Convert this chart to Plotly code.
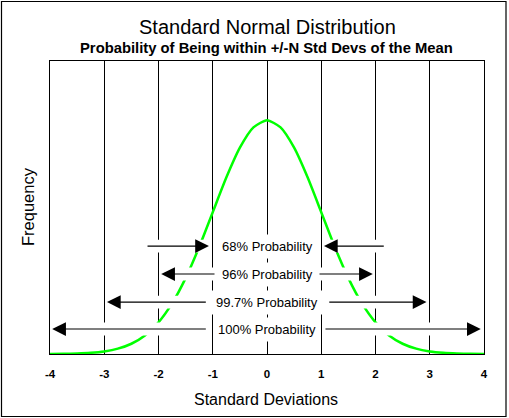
import plotly.graph_objects as go

# Curve (frequency vs standard deviations)
sd_values = [-4.0, -3.75, -3.5, -3.25, -3.0, -2.75, -2.5, -2.25, -2.0, -1.75, -1.5, -1.25,
             -1.0, -0.75, -0.5, -0.25, 0.0, 0.25, 0.5, 0.75, 1.0, 1.25, 1.5, 1.75,
             2.0, 2.25, 2.5, 2.75, 3.0, 3.25, 3.5, 3.75, 4.0]
frequency = [0.0001, 0.0004, 0.0009, 0.002, 0.0044, 0.0091, 0.0175, 0.0317, 0.054, 0.0863,
             0.1295, 0.1826, 0.242, 0.3011, 0.3521, 0.3867, 0.3989, 0.3867, 0.3521, 0.3011,
             0.242, 0.1826, 0.1295, 0.0863, 0.054, 0.0317, 0.0175, 0.0091, 0.0044, 0.002,
             0.0009, 0.0004, 0.0001]

tick_values = [-4, -3, -2, -1, 0, 1, 2, 3, 4]
tick_labels = ["-4", "-3", "-2", "-1", "0", "1", "2", "3", "4"]

prob_labels = ["68% Probability", "96% Probability", "99.7% Probability", "100% Probability"]
# (left head, left tail, right tail, right head, level)
arrow_rows = [
    (-1.07, -2.23, 2.18, 1.05, 0.1841),
    (-1.95, -0.94, 0.94, 1.95, 0.1364),
    (-2.95, -1.10, 1.12, 2.94, 0.0886),
    (-3.96, -1.10, 1.05, 3.94, 0.0426),
]

FONT = "Liberation Sans, Arial, sans-serif"

fig = go.Figure()
fig.add_trace(go.Scatter(x=sd_values, y=frequency, mode="lines",
                         line=dict(color="#00FF00", width=2.5, shape="spline", smoothing=0.6),
                         hoverinfo="skip", showlegend=False))

shapes = []
annotations = []
band = 0.011
for label, (lh, lt, rt, rh, lvl) in zip(prob_labels, arrow_rows):
    # white bands behind the arrows (hide grid + curve)
    for a, b in ((lh, lt), (rt, rh)):
        x0, x1 = min(a, b), max(a, b)
        shapes.append(dict(type="rect", xref="x", yref="y", x0=x0 - 0.02, x1=x1 + 0.02,
                           y0=lvl - band, y1=lvl + band, fillcolor="white",
                           line=dict(width=0), layer="above"))
    for head, tail in ((lh, lt), (rh, rt)):
        annotations.append(dict(x=head, y=lvl, ax=tail, ay=lvl, xref="x", yref="y",
                                axref="x", ayref="y", text="", showarrow=True,
                                arrowhead=2, arrowsize=2.5, arrowwidth=1.1,
                                arrowcolor="black"))
    annotations.append(dict(x=0, y=lvl, xref="x", yref="y", text=label, showarrow=False,
                            font=dict(family=FONT, size=13, color="black"),
                            bgcolor="white", borderpad=4))

# outer border of the image
PLOT_L, PLOT_R, PLOT_T, PLOT_B = 50, 484, 61, 354
pw, ph = PLOT_R - PLOT_L, PLOT_B - PLOT_T
def px_x(p):
    return (p - PLOT_L) / pw
def px_y(p):
    return (PLOT_B - p) / ph

shapes.append(dict(type="rect", xref="paper", yref="paper",
                   x0=px_x(1.5), x1=px_x(506), y0=px_y(416.5), y1=px_y(1.5),
                   line=dict(color="black", width=1.2), fillcolor="rgba(0,0,0,0)",
                   layer="above"))

annotations += [
    dict(text="Standard Normal Distribution", xref="paper", yref="paper",
         x=px_x(267), y=px_y(27), showarrow=False, xanchor="center", yanchor="middle",
         font=dict(family=FONT, size=20, color="black")),
    dict(text="<b>Probability of Being within +/-N Std Devs of the Mean</b>", xref="paper",
         yref="paper", x=px_x(266), y=px_y(48), showarrow=False, xanchor="center",
         yanchor="middle", font=dict(family=FONT, size=14.8, color="black")),
    dict(text="Standard Deviations", xref="paper", yref="paper",
         x=px_x(266), y=px_y(399), showarrow=False, xanchor="center", yanchor="middle",
         font=dict(family=FONT, size=16, color="black")),
    dict(text="Frequency", xref="paper", yref="paper", textangle=-90,
         x=px_x(28), y=px_y(207), showarrow=False, xanchor="center", yanchor="middle",
         font=dict(family=FONT, size=16.5, color="black")),
]

fig.update_layout(
    width=509, height=418,
    margin=dict(l=PLOT_L, r=509 - PLOT_R, t=PLOT_T, b=418 - PLOT_B, pad=0),
    paper_bgcolor="white", plot_bgcolor="white",
    shapes=shapes, annotations=annotations, showlegend=False,
    xaxis=dict(range=[-4, 4], tickvals=tick_values, ticktext=[f"<b>{t}</b>" for t in tick_labels],
               showgrid=True, gridcolor="black", gridwidth=1, zeroline=False,
               showline=True, linecolor="black", linewidth=1, mirror=True,
               ticks="", ticklabelstandoff=9,
               tickfont=dict(family=FONT, size=11.5, color="black"),
               layer="below traces", fixedrange=True),
    yaxis=dict(range=[0, 0.5], showgrid=False, zeroline=False, showticklabels=False,
               showline=True, linecolor="black", linewidth=1, mirror=True, ticks="",
               fixedrange=True),
)

fig.write_html("out.html",
               post_script="document.body.style.margin='0';document.body.style.overflow='hidden';",
               config={"displayModeBar": False})
